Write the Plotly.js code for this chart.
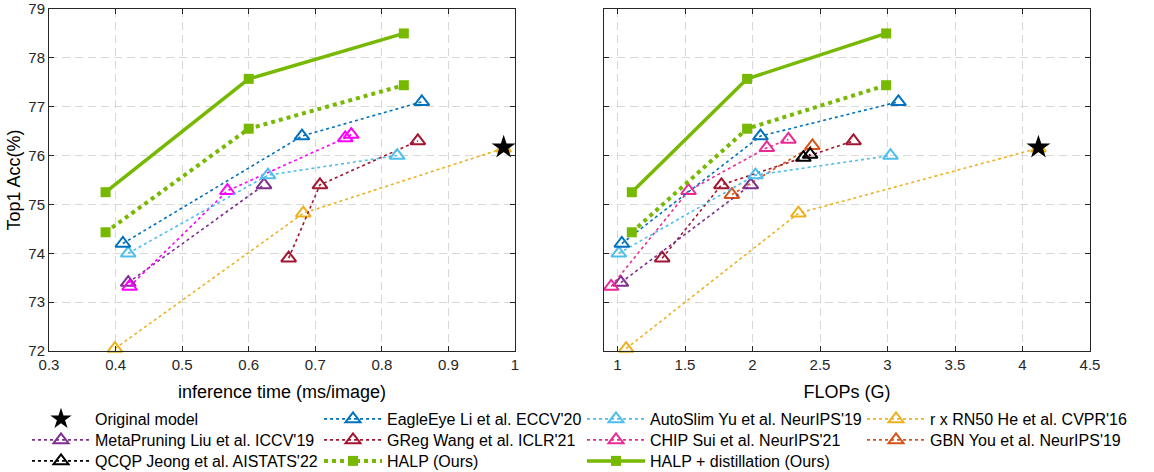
<!DOCTYPE html>
<html>
<head>
<meta charset="utf-8">
<script src="https://cdn.plot.ly/plotly-3.0.1.min.js"></script>
<style>html,body{margin:0;padding:0;background:#fff;}#chart{width:1154px;height:472px;}</style>
</head>
<body>
<div id="chart"></div>
<script>
// ---- data ----
// HALP + distillation (Ours)
const halpDistTime = [0.385, 0.600, 0.833];
const halpDistFlops = [1.106, 1.960, 2.990];
const halpDistAcc = [75.25, 77.57, 78.50];
// HALP (Ours)
const halpTime = [0.385, 0.600, 0.833];
const halpFlops = [1.106, 1.960, 2.990];
const halpAcc = [74.43, 76.55, 77.44];
// EagleEye
const eagleTime = [0.411, 0.680, 0.860];
const eagleFlops = [1.032, 2.059, 3.081];
const eagleAcc = [74.2, 76.4, 77.1];
// AutoSlim
const autoTime = [0.419, 0.629, 0.823];
const autoFlops = [1.010, 2.022, 3.022];
const autoAcc = [74.0, 75.6, 76.0];
// MetaPruning
const metaTime = [0.419, 0.623];
const metaFlops = [1.025, 1.987];
const metaAcc = [73.4, 75.4];
// CHIP
const chipTime = [0.421, 0.568, 0.745, 0.754];
const chipAccTime = [73.32, 75.28, 76.36, 76.43];
const chipFlops = [0.953, 1.526, 2.106, 2.266];
const chipAccFlops = [73.32, 75.28, 76.16, 76.33];
// GReg
const gregTime = [0.660, 0.707, 0.854];
const gregFlops = [1.331, 1.770, 2.748];
const gregAcc = [73.9, 75.4, 76.3];
// GBN
const gbnFlops = [1.847, 2.444];
const gbnAcc = [75.2, 76.2];
// QCQP
const qcqpFlops = [2.377, 2.427];
const qcqpAcc = [75.96, 76.02];
// r x RN50
const rnTime = [0.399, 0.682, 0.983];
const rnFlops = [1.064, 2.340, 4.118];
const rnAcc = [72.05, 74.82, 76.15];
// Original model
const origTime = [0.983];
const origFlops = [4.118];
const origAcc = [76.17];

const xTicksTime = [0.3, 0.4, 0.5, 0.6, 0.7, 0.8, 0.9, 1.0];
const xTickTextTime = ['0.3','0.4','0.5','0.6','0.7','0.8','0.9','1'];
const xTicksFlops = [1, 1.5, 2, 2.5, 3, 3.5, 4, 4.5];
const yTicks = [72, 73, 74, 75, 76, 77, 78, 79];

// ---- styling ----
const C = {
  eagle: '#0072BD', auto: '#4DBEEE', rn: '#EDB120', meta: '#7E2F8E',
  greg: '#A2142F', chipL: '#FF00FF', chipR: '#EC2A96', gbn: '#D95319',
  qcqp: '#000000', halp: '#76B900'
};

function tri(name, x, y, color, axis, legend, show) {
  return {
    type: 'scatter', mode: 'lines+markers', name: name, x: x, y: y,
    xaxis: axis === 1 ? 'x' : 'x2', yaxis: axis === 1 ? 'y' : 'y2',
    line: {color: color, width: 1.6, dash: 'dot'},
    marker: {symbol: 'triangle-up-open', size: 13, color: color, line: {width: 2, color: color}},
    cliponaxis: false, legend: legend, showlegend: show
  };
}
function halpTrace(name, x, y, axis, dashed, legend, show) {
  return {
    type: 'scatter', mode: 'lines+markers', name: name, x: x, y: y,
    xaxis: axis === 1 ? 'x' : 'x2', yaxis: axis === 1 ? 'y' : 'y2',
    line: {color: C.halp, width: dashed ? 4 : 3.5, dash: dashed ? 'dot' : 'solid'},
    marker: {symbol: 'square', size: 10, color: C.halp},
    cliponaxis: false, legend: legend, showlegend: show
  };
}
function star(x, y, axis, show) {
  return {
    type: 'scatter', mode: 'markers', name: 'Original model', x: x, y: y,
    xaxis: axis === 1 ? 'x' : 'x2', yaxis: axis === 1 ? 'y' : 'y2',
    marker: {symbol: 'star', size: 18, color: '#000000', line: {width: 0}},
    cliponaxis: false, legend: 'legend', showlegend: show
  };
}

const traces = [
  // left panel
  tri('r x RN50 He et al. CVPR\'16', rnTime, rnAcc, C.rn, 1, 'legend4', false),
  tri('GReg Wang et al. ICLR\'21', gregTime, gregAcc, C.greg, 1, 'legend6', false),
  tri('MetaPruning Liu et al. ICCV\'19', metaTime, metaAcc, C.meta, 1, 'legend5', false),
  tri('CHIP Sui et al. NeurIPS\'21', chipTime, chipAccTime, C.chipL, 1, 'legend7', false),
  tri('AutoSlim Yu et al. NeurIPS\'19', autoTime, autoAcc, C.auto, 1, 'legend3', false),
  tri('EagleEye Li et al. ECCV\'20', eagleTime, eagleAcc, C.eagle, 1, 'legend2', false),
  halpTrace('HALP (Ours)', halpTime, halpAcc, 1, true, 'legend10', false),
  halpTrace('HALP + distillation (Ours)', halpDistTime, halpDistAcc, 1, false, 'legend11', false),
  star(origTime, origAcc, 1, false),
  // right panel
  tri('r x RN50 He et al. CVPR\'16', rnFlops, rnAcc, C.rn, 2, 'legend4', true),
  tri('GReg Wang et al. ICLR\'21', gregFlops, gregAcc, C.greg, 2, 'legend6', true),
  tri('GBN You et al. NeurIPS\'19', gbnFlops, gbnAcc, C.gbn, 2, 'legend8', true),
  tri('MetaPruning Liu et al. ICCV\'19', metaFlops, metaAcc, C.meta, 2, 'legend5', true),
  tri('QCQP Jeong et al. AISTATS\'22', qcqpFlops, qcqpAcc, C.qcqp, 2, 'legend9', true),
  tri('CHIP Sui et al. NeurIPS\'21', chipFlops, chipAccFlops, C.chipR, 2, 'legend7', true),
  tri('AutoSlim Yu et al. NeurIPS\'19', autoFlops, autoAcc, C.auto, 2, 'legend3', true),
  tri('EagleEye Li et al. ECCV\'20', eagleFlops, eagleAcc, C.eagle, 2, 'legend2', true),
  halpTrace('HALP (Ours)', halpFlops, halpAcc, 2, true, 'legend10', true),
  halpTrace('HALP + distillation (Ours)', halpDistFlops, halpDistAcc, 2, false, 'legend11', true),
  star(origFlops, origAcc, 2, true)
];

const W = 1154, H = 472;
const px = v => v / W, py = v => 1 - v / H;
const tickFont = {family: 'Liberation Sans, Arial, sans-serif', size: 15, color: '#262626'};
const titleFont = {family: 'Liberation Sans, Arial, sans-serif', size: 18, color: '#000000'};
const common = {
  showline: true, linecolor: '#262626', linewidth: 1, mirror: 'ticks',
  ticks: 'inside', ticklen: 5, tickwidth: 1, tickcolor: '#262626',
  showgrid: true, gridcolor: '#D8D8D8', gridwidth: 1, griddash: '8px,5px',
  zeroline: false, tickfont: tickFont, ticklabeloverflow: 'allow', automargin: false
};
const legFont = {family: 'Liberation Sans, Arial, sans-serif', size: 16, color: '#000000'};
// legend grid: marker centres (px) per column, row centres (px)
const colMarkerX = [63, 355, 618, 898];
const rowCenterY = [418, 439, 460];
function leg(col, row) {
  return {x: px(colMarkerX[col] - 36), y: py(rowCenterY[row] - 16), xanchor: 'left', yanchor: 'top',
    orientation: 'v', font: legFont, itemwidth: 58, bgcolor: 'rgba(0,0,0,0)', borderwidth: 0,
    tracegroupgap: 0, itemclick: false, itemdoubleclick: false};
}

const layout = {
  width: W, height: H,
  margin: {l: 0, r: 0, t: 0, b: 0, autoexpand: false},
  paper_bgcolor: '#ffffff', plot_bgcolor: '#ffffff',
  xaxis: Object.assign({}, common, {
    domain: [px(49), px(515)], range: [0.3, 1.0], anchor: 'y',
    tickvals: xTicksTime, ticktext: xTickTextTime,
    title: {text: 'inference time (ms/image)', font: titleFont, standoff: 13}
  }),
  yaxis: Object.assign({}, common, {
    domain: [py(351), py(9)], range: [72, 79], anchor: 'x', tickvals: yTicks,
    title: {text: 'Top1 Acc(%)', font: titleFont, standoff: 3}
  }),
  xaxis2: Object.assign({}, common, {
    domain: [px(604), px(1090)], range: [0.9, 4.5], anchor: 'y2',
    tickvals: xTicksFlops,
    title: {text: 'FLOPs (G)', font: titleFont, standoff: 13}
  }),
  yaxis2: Object.assign({}, common, {
    domain: [py(351), py(9)], range: [72, 79], anchor: 'x2', tickvals: yTicks,
    showticklabels: false
  }),
  legend: leg(0, 0), legend2: leg(1, 0), legend3: leg(2, 0), legend4: leg(3, 0),
  legend5: leg(0, 1), legend6: leg(1, 1), legend7: leg(2, 1), legend8: leg(3, 1),
  legend9: leg(0, 2), legend10: leg(1, 2), legend11: leg(2, 2),
  showlegend: true
};

Plotly.newPlot('chart', traces, layout, {staticPlot: true, displayModeBar: false});
</script>
</body>
</html>
